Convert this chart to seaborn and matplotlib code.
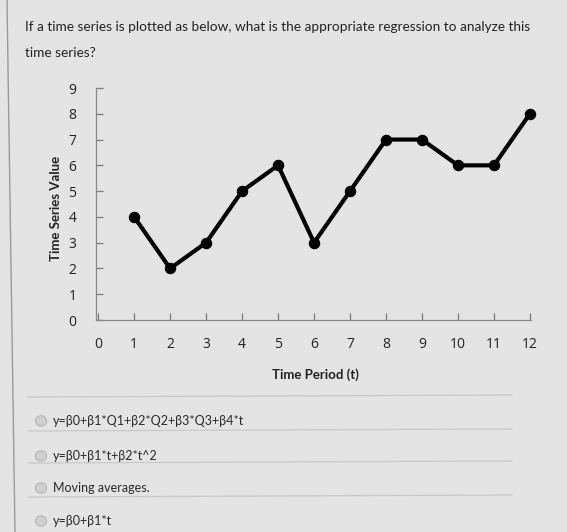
import matplotlib
matplotlib.use("Agg")
import matplotlib.pyplot as plt
import seaborn as sns
import pandas as pd
from matplotlib.patches import Circle
from matplotlib.lines import Line2D

# ---- data ----
periods = [1, 2, 3, 4, 5, 6, 7, 8, 9, 10, 11, 12]
values = [4, 2, 3, 5, 6, 3, 5, 7, 7, 6, 6, 8]
x_ticks = list(range(0, 13))
y_ticks = list(range(0, 10))
question_lines = ["If a time series is plotted as below, what is the appropriate regression to analyze this",
                  "time series?"]
options = ["y=β0+β1*Q1+β2*Q2+β3*Q3+β4*t",
           "y=β0+β1*t+β2*t^2",
           "Moving averages.",
           "y=β0+β1*t"]
x_label = "Time Period (t)"
y_label = "Time Series Value"

sns.set_theme(style="white")
plt.rcParams['font.family'] = ['Lato', 'DejaVu Sans']

BG = "#e4e4e4"
W, H = 567, 532
fig = plt.figure(figsize=(W / 100, H / 100), dpi=100, facecolor=BG)

def fx(px):
    return px / W

def fy(py):
    return 1 - py / H

# axes placement (pixel coords from the reference)
ax = fig.add_axes([fx(96), fy(320), fx(531) - fx(96), fy(88) - fy(320)])
ax.set_facecolor(BG)
df = pd.DataFrame({"t": periods, "v": values})
sns.lineplot(data=df, x="t", y="v", ax=ax, color="black", linewidth=3.0,
             marker="o", markersize=7.5, markeredgecolor="black", clip_on=False)
ax.set_xlim(-0.06, 12.03)
ax.set_ylim(0, 9)
ax.set_xticks(x_ticks)
ax.set_yticks(y_ticks)
ax.tick_params(axis="both", direction="in", length=5, width=0.9, color="#7a7a7a",
               labelsize=10, labelcolor="#222222", bottom=True, left=True)
ax.tick_params(axis="x", pad=12)
ax.tick_params(axis="y", pad=14)
for lab in ax.get_xticklabels() + ax.get_yticklabels():
    lab.set_family(['Open Sans', 'DejaVu Sans'])
for s in ["top", "right"]:
    ax.spines[s].set_visible(False)
for s in ["left", "bottom"]:
    ax.spines[s].set_color("#8a8a8a")
    ax.spines[s].set_linewidth(0.9)
ax.set_xlabel(x_label, fontsize=9.5, fontweight="bold", color="#222222", labelpad=12)
ax.set_ylabel(y_label, fontsize=9.5, fontweight="bold", color="#222222", labelpad=14)
ax.xaxis.set_label_coords((fx(315) - fx(96)) / (fx(531) - fx(96)), -0.21)
ax.yaxis.set_label_coords(-0.078, 0.48)

# question text
fig.text(fx(25), fy(27), question_lines[0], fontsize=9.8, color="#222222", va="center", ha="left")
fig.text(fx(25), fy(53), question_lines[1], fontsize=9.8, color="#222222", va="center", ha="left")

# page border line on the left
fig.add_artist(Line2D([fx(7), fx(15)], [fy(0), fy(532)], color="#9a9a9a", linewidth=1.0))

# separator lines
for yy in [397, 431, 463, 497]:
    fig.add_artist(Line2D([fx(28), fx(512)], [fy(yy), fy(yy - 2)], color="#c8c8c8", linewidth=0.9))

# options with radio buttons
opt_y = [421, 456, 488, 521]
for txt, yy in zip(options, opt_y):
    fig.add_artist(Circle((fx(41), fy(yy)), radius=5.5 / W, transform=fig.transFigure,
                          facecolor="#d0d0d0", edgecolor="#b5b5b5", linewidth=0.8))
    fig.text(fx(53), fy(yy), txt, fontsize=9, color="#2a2a2a", va="center", ha="left")

fig.savefig("out.png", dpi=100, facecolor=BG)
